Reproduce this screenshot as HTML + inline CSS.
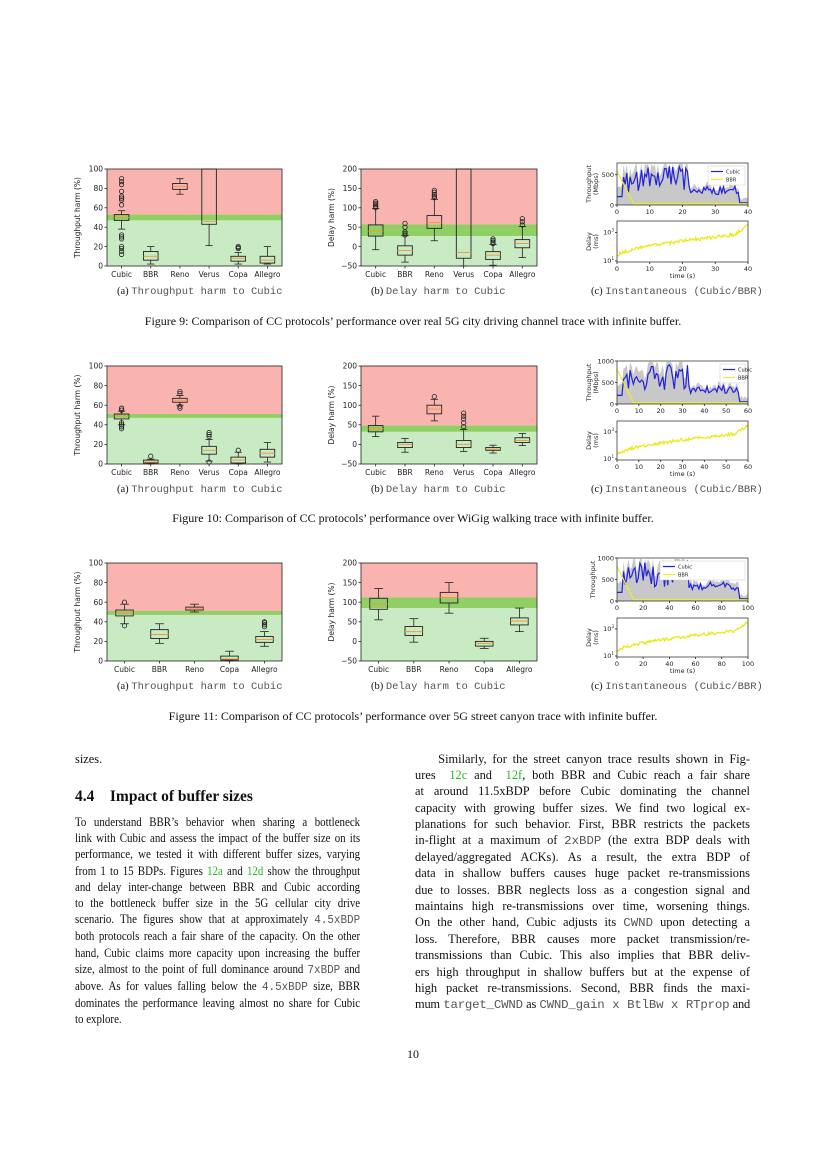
<!DOCTYPE html>
<html><head><meta charset="utf-8">
<style>
body{margin:0;background:#fff;}
#pg{position:relative;width:826px;height:1169px;overflow:hidden;background:#fff;font-family:"Liberation Serif",serif;color:#111;}
svg{position:absolute;left:0;top:0;}
.cap{position:absolute;font-size:10.5px;white-space:nowrap;}
.cap tt,.mono{font-family:"Liberation Mono",monospace;color:#555;}
.mc{position:absolute;font-size:12px;white-space:nowrap;width:826px;text-align:center;left:0;}
.col{position:absolute;font-size:12.4px;line-height:16.2px;}
.col div{text-align:justify;text-align-last:justify;white-space:nowrap;}
.col div.l{text-align-last:left;}
.lc{transform:scaleX(0.88);transform-origin:0 0;}
.g{color:#22bb22;}
h3{position:absolute;margin:0;font-size:15.5px;font-weight:bold;left:75px;top:788px;}
</style></head><body><div id="pg">
<svg id="s" width="826" height="1169" xmlns="http://www.w3.org/2000/svg" font-family="DejaVu Sans, sans-serif"></svg>

<div class="cap" style="left:117px;top:286px">(a) <tt>Throughput harm to Cubic</tt></div>
<div class="cap" style="left:371px;top:286px">(b) <tt>Delay harm to Cubic</tt></div>
<div class="cap" style="left:591px;top:286px">(c) <tt>Instantaneous (Cubic/BBR)</tt></div>
<div class="mc" style="top:314px">Figure 9: Comparison of CC protocols’ performance over real 5G city driving channel trace with infinite buffer.</div>

<div class="cap" style="left:117px;top:484px">(a) <tt>Throughput harm to Cubic</tt></div>
<div class="cap" style="left:371px;top:484px">(b) <tt>Delay harm to Cubic</tt></div>
<div class="cap" style="left:591px;top:484px">(c) <tt>Instantaneous (Cubic/BBR)</tt></div>
<div class="mc" style="top:511px">Figure 10: Comparison of CC protocols’ performance over WiGig walking trace with infinite buffer.</div>

<div class="cap" style="left:117px;top:681px">(a) <tt>Throughput harm to Cubic</tt></div>
<div class="cap" style="left:371px;top:681px">(b) <tt>Delay harm to Cubic</tt></div>
<div class="cap" style="left:591px;top:681px">(c) <tt>Instantaneous (Cubic/BBR)</tt></div>
<div class="mc" style="top:709px">Figure 11: Comparison of CC protocols’ performance over 5G street canyon trace with infinite buffer.</div>

<div class="col" style="left:75px;top:751px;width:285px"><div class="l">sizes.</div></div>
<h3>4.4&nbsp;&nbsp;&nbsp; Impact of buffer sizes</h3>
<div class="col lc" style="left:75px;top:814px;width:324px">
<div>To understand BBR’s behavior when sharing a bottleneck</div>
<div>link with Cubic and assess the impact of the buffer size on its</div>
<div>performance, we tested it with different buffer sizes, varying</div>
<div>from 1 to 15 BDPs. Figures <span class="g">12a</span> and <span class="g">12d</span> show the throughput</div>
<div>and delay inter-change between BBR and Cubic according</div>
<div>to the bottleneck buffer size in the 5G cellular city drive</div>
<div>scenario. The figures show that at approximately <span class="mono">4.5xBDP</span></div>
<div>both protocols reach a fair share of the capacity. On the other</div>
<div>hand, Cubic claims more capacity upon increasing the buffer</div>
<div>size, almost to the point of full dominance around <span class="mono">7xBDP</span> and</div>
<div>above. As for values falling below the <span class="mono">4.5xBDP</span> size, BBR</div>
<div>dominates the performance leaving almost no share for Cubic</div>
<div class="l">to explore.</div>
</div>
<div class="col" style="left:415px;top:751px;width:335px">
<div>&nbsp;&nbsp;&nbsp;&nbsp;Similarly, for the street canyon trace results shown in Fig-</div>
<div>ures &nbsp;<span class="g">12c</span> and &nbsp;<span class="g">12f</span>, both BBR and Cubic reach a fair share</div>
<div>at around 11.5xBDP before Cubic dominating the channel</div>
<div>capacity with growing buffer sizes. We find two logical ex-</div>
<div>planations for such behavior. First, BBR restricts the packets</div>
<div>in-flight at a maximum of <span class="mono">2xBDP</span> (the extra BDP deals with</div>
<div>delayed/aggregated ACKs). As a result, the extra BDP of</div>
<div>data in shallow buffers causes huge packet re-transmissions</div>
<div>due to losses. BBR neglects loss as a congestion signal and</div>
<div>maintains high re-transmissions over time, worsening things.</div>
<div>On the other hand, Cubic adjusts its <span class="mono">CWND</span> upon detecting a</div>
<div>loss. Therefore, BBR causes more packet transmission/re-</div>
<div>transmissions than Cubic. This also implies that BBR deliv-</div>
<div>ers high throughput in shallow buffers but at the expense of</div>
<div>high packet re-transmissions. Second, BBR finds the maxi-</div>
<div style="letter-spacing:-0.2px">mum <span class="mono">target_CWND</span> as <span class="mono">CWND_gain x BtlBw x RTprop</span> and</div>
</div>
<div class="mc" style="top:1047px">10</div>

<script>
var S=document.getElementById('s'),o='';
function T(x,y,t,a,sz,ex){o+='<text x="'+x+'" y="'+y+'" font-size="'+(sz||7.5)+'" text-anchor="'+(a||'middle')+'" fill="#222" '+(ex||'')+'>'+t+'</text>';}
function R(x,y,w,h,f,ex){o+='<rect x="'+x+'" y="'+y+'" width="'+w+'" height="'+h+'" fill="'+f+'" '+(ex||'')+'/>';}
function L(a,b,c,d,s,w){o+='<line x1="'+a+'" y1="'+b+'" x2="'+c+'" y2="'+d+'" stroke="'+(s||'#222')+'" stroke-width="'+(w||0.8)+'"/>';}
function box(x0,x1,y0,y1,mn,mx,ticks,cats,bx,band,lab){
 var Y=function(v){return y1-(v-mn)/(mx-mn)*(y1-y0);};
 R(x0,y0,x1-x0,Y(band[1])-y0,'#f9b4b0');
 R(x0,Y(band[1]),x1-x0,Y(band[0])-Y(band[1]),'#8fcf63');
 R(x0,Y(band[0]),x1-x0,y1-Y(band[0]),'#c9ebc4');
 var n=cats.length,dx=(x1-x0)/n,bw=dx*0.5;
 for(var i=0;i<n;i++){var c=x0+dx*(i+0.5),b=bx[i];
  L(c,Y(b[0]),c,Y(b[1]));L(c,Y(b[3]),c,Y(b[4]));
  L(c-bw/4,Y(b[0]),c+bw/4,Y(b[0]));L(c-bw/4,Y(b[4]),c+bw/4,Y(b[4]));
  R(c-bw/2,Y(b[3]),bw,Y(b[1])-Y(b[3]),'none','stroke="#222" stroke-width="0.9"');
  L(c-bw/2,Y(b[2]),c+bw/2,Y(b[2]),'#f39a3e',1);
  (b[5]||[]).forEach(function(v){o+='<circle cx="'+c+'" cy="'+Y(v)+'" r="2.2" fill="none" stroke="#222" stroke-width="0.8"/>';});
  L(c,y1,c,y1+2.5);T(c,y1+11,cats[i]);}
 ticks.forEach(function(t){L(x0-2.5,Y(t),x0,Y(t));T(x0-4,Y(t)+2.7,t<0?'−'+(-t):t,'end');});
 R(x0,y0,x1-x0,y1-y0,'none','stroke="#222" stroke-width="0.8"');
 T(x0-27,(y0+y1)/2,lab,'middle',7.5,'transform="rotate(-90 '+(x0-27)+' '+((y0+y1)/2)+')"');
}
var seed=1;function rnd(){seed=(seed*16807)%2147483647;return seed/2147483647;}
function ts(x0,x1,ya,yb,yc,yd,tmax,tstep,tmaxY,tyt,kind,ylab1,ylab2,legLeft){
 var N=80,pts=[],gp=[],yp=[];
 for(var i=0;i<=N;i++){var t=i/N,v;
  if(kind==0){v=t<0.55?0.25+0.6*rnd()+0.2*t:0.25+0.2*rnd(); if(t<0.05)v=0.2;if(t>0.93)v=0.05;}
  else if(kind==1){v=Math.abs(Math.sin(t*60))*0.8*(0.6+0.5*rnd());}
  else{v=0.4+0.45*rnd();}
  pts.push([x0+t*(x1-x0),ya+(yb-ya)*(1-Math.min(v,0.98))]);
  var g=Math.min(0.98,v+0.1*rnd()+(kind==0&&t<0.55?0.2:0.05));gp.push([x0+t*(x1-x0),ya+(yb-ya)*(1-g)]);
  var yy=kind==0?(t<0.12?0.8-t*6:0.03):(kind==1?0.08*rnd()+(t<0.05?0.15:0):(t<0.8?0.02:0.02+(t-0.8)*0.8));
  yp.push([x0+t*(x1-x0),ya+(yb-ya)*(1-yy)]);}
 var d='M'+x0+' '+yb+gp.map(function(p){return 'L'+p[0].toFixed(1)+' '+p[1].toFixed(1);}).join('')+'L'+x1+' '+yb+'Z';
 o+='<path d="'+d+'" fill="#c8c8c8"/>';
 o+='<polyline points="'+pts.map(function(p){return p.join(',');}).join(' ')+'" fill="none" stroke="#2222dd" stroke-width="1.2"/>';
 o+='<polyline points="'+yp.map(function(p){return p.join(',');}).join(' ')+'" fill="none" stroke="#eeee22" stroke-width="1.2"/>';
 R(x0,ya,x1-x0,yb-ya,'none','stroke="#222" stroke-width="0.7"');
 tmaxY.forEach(function(t){var y=yb-(yb-ya)*t[0];L(x0-2,y,x0,y);T(x0-3,y+2.3,t[1],'end',6.5);});
 for(var t=0;t<=tmax;t+=tstep){var x=x0+t/tmax*(x1-x0);L(x,yb,x,yb+2);T(x,yb+9,t,'middle',6.5);L(x,yd,x,yd+2);T(x,yd+9,t,'middle',6.5);}
 var lx=legLeft;R(lx,ya+3,x1-lx-3,19,'#fff','stroke="#ccc" stroke-width="0.5"');
 L(lx+3,ya+8.5,lx+15,ya+8.5,'#2222dd',1.2);T(lx+18,ya+10.5,'Cubic','start',5);
 L(lx+3,ya+16.5,lx+15,ya+16.5,'#eeee22',1.2);T(lx+18,ya+18.5,'BBR','start',5);
 var dp=[];for(var i=0;i<=140;i++){var t=i/140,v;
  if(kind==0)v=0.15+0.55*Math.pow(t,0.6)+0.08*(rnd()-0.5)+(t>0.9?0.2*(t-0.9)*10:0);
  else if(kind==1)v=0.3+0.35*((t*9)%1)+0.12*(rnd()-0.5);
  else v=0.52+0.12*(rnd()-0.5)-(t<0.05?0.2:0);
  dp.push([x0+t*(x1-x0),yc+(yd-yc)*(1-Math.max(0.02,Math.min(0.98,v)))]);}
 o+='<polyline points="'+dp.map(function(p){return p[0].toFixed(1)+','+p[1].toFixed(1);}).join(' ')+'" fill="none" stroke="#eaea1a" stroke-width="1.3"/>';
 R(x0,yc,x1-x0,yd-yc,'none','stroke="#222" stroke-width="0.7"');
 L(x0-2,yd-1,x0,yd-1);T(x0-3,yd+1,'10<tspan font-size="4" dy="-3">1</tspan>','end',6.5);
 var y3=yc+(yd-yc)*0.28;L(x0-2,y3,x0,y3);T(x0-3,y3+2,'10<tspan font-size="4" dy="-3">3</tspan>','end',6.5);
 T((x0+x1)/2,yd+16,'time (s)','middle',6.5);
 var m1=(ya+yb)/2,m2=(yc+yd)/2;
 if(ylab2){T(x0-26,m1,ylab1,'middle',6.5,'transform="rotate(-90 '+(x0-26)+' '+m1+')"');T(x0-19,m1,ylab2,'middle',6.5,'transform="rotate(-90 '+(x0-19)+' '+m1+')"');}
 else T(x0-22,m1,ylab1,'middle',6.5,'transform="rotate(-90 '+(x0-22)+' '+m1+')"');
 if(kind<2){T(x0-26,m2,'Delay','middle',6.5,'transform="rotate(-90 '+(x0-26)+' '+m2+')"');T(x0-19,m2,'(ms)','middle',6.5,'transform="rotate(-90 '+(x0-19)+' '+m2+')"');}
 else T(x0-22,m2,'Delay (ms)','middle',6.5,'transform="rotate(-90 '+(x0-22)+' '+m2+')"');
}
var C6=['Cubic','BBR','Reno','Verus','Copa','Allegro'],C5=['Cubic','BBR','Reno','Copa','Allegro'];
var tk1=[0,20,40,60,80,100],tk2=[-50,0,50,100,150,200];
box(107,282,169,266,0,100,tk1,C6,[[38,47,50,53,57,[12,15,18,20,28,30,32,63,68,70,72,77,84,87,90]],[2,6,10,15,20],[74,79,82,85,90],[21,43,46,100,100],[2,5,8,10,14,[18,19,20]],[2,3,6,10,20]],[47,53],'Throughput harm (%)');
box(361,537,169,266,-50,200,tk2,C6,[[-8,27,40,56,98,[100,104,108,112,116]],[-40,-22,-10,2,28,[30,34,38,50,60]],[15,47,62,80,122,[126,130,134,140,145]],[-50,-30,-15,200,200],[-48,-33,-22,-13,5,[8,12,16,20]],[-28,-3,8,18,52,[56,64,72]]],[27,57],'Delay harm (%)');
ts(617,748,163,205,221,262,40,10,[[0,'0'],[0.72,'500']],0,0,'Throughput','(Mbps)',708);
box(107,282,366,464,0,100,tk1,C6,[[40,46,49,51,54,[36,38,40,42,55,57]],[0,1,2,4,5,[8]],[60,63,65,67,70,[57,59,72,74]],[3,10,14,18,25,[2,28,30,32]],[0,1,4,7,12,[14]],[2,7,11,15,22]],[47,51],'Throughput harm (%)');
box(361,537,366,464,-50,200,tk2,C6,[[20,32,40,48,72],[-20,-8,0,5,15],[60,78,90,100,115,[122]],[-18,-8,0,10,38,[45,55,65,72,80]],[-22,-15,-12,-8,-2],[-3,5,10,17,28]],[32,48],'Delay harm (%)');
ts(617,748,361,404,421,460,60,10,[[0,'0'],[0.5,'500'],[1,'1000']],1,0,'Throughput','(Mbps)',720);
box(107,282,563,661,0,100,tk1,C5,[[38,46,49,52,58,[36,60]],[18,23,27,32,38],[50,52,54,55,58],[0,1,2,5,10],[15,19,22,25,30,[35,37,39,40]]],[47,51],'Throughput harm (%)');
box(361,537,563,661,-50,200,tk2,C5,[[55,82,95,110,135],[-2,15,25,38,58],[72,98,112,125,150],[-18,-12,-5,0,8],[25,42,52,60,85]],[85,112],'Delay harm (%)');
ts(617,748,558,601,618,657,100,20,[[0,'0'],[0.5,'500'],[1,'1000']],2,0,'Throughput',null,660);
S.innerHTML=o;
</script>
</div></body></html>
